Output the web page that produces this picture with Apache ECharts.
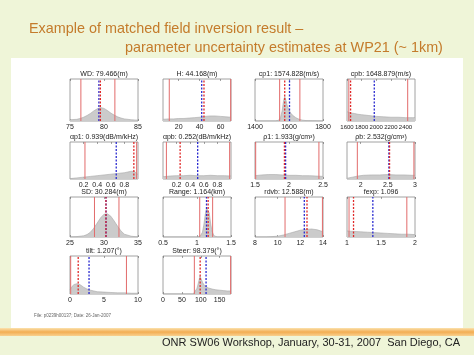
<!DOCTYPE html>
<html><head><meta charset="utf-8">
<script src="https://cdn.jsdelivr.net/npm/echarts@6/dist/echarts.min.js"></script>
<style>html,body{margin:0;padding:0;background:#eff5d8;}#c{width:474px;height:355px;}</style>
</head><body><div id="c"></div>
<script>
// ---- data ----
// each lines array: [lower bound, upper bound, estimate (red dashed), mean (blue dashed)]
const wdX = [75,76,76.5,77,77.5,78,78.5,79,79.5,80,80.5,81,81.5,82,82.5,83,84,85];
const wdY = [0.03,0.04,0.06,0.09,0.13,0.18,0.24,0.29,0.32,0.30,0.25,0.19,0.14,0.10,0.07,0.05,0.03,0.02];
const wdTicks = [75,80,85];
const wdLines = [76.6,81.6,79.466,79.25];

const hX = [5,10,15,20,25,30,35,40,45,50,55,60,65,70];
const hY = [0.04,0.05,0.05,0.06,0.06,0.07,0.08,0.09,0.11,0.12,0.12,0.11,0.10,0.09];
const hTicks = [20,40,60];
const hLines = [11,69.7,44.168,42];

const cp1X = [1400,1520,1540,1550,1560,1565,1570,1575,1580,1585,1590,1600,1610,1620,1640,1660,1680,1700,1800];
const cp1Y = [0,0,0.02,0.08,0.25,0.4,0.52,0.58,0.55,0.45,0.36,0.26,0.19,0.14,0.08,0.04,0.02,0.01,0];
const cp1Ticks = [1400,1600,1800];
const cp1Lines = [1545,1664,1574.828,1603];

const cpbX = [1600,1625,1650,1700,1750,1800,1900,2000,2100,2200,2300,2400,2500,2530];
const cpbY = [0.22,0.2,0.19,0.18,0.16,0.15,0.13,0.11,0.1,0.09,0.09,0.08,0.08,0.08];
const cpbTicks = [1600,1800,2000,2200,2400];
const cpbLines = [1625,2430,1648.879,1973];

const ap1X = [0,0.1,0.2,0.3,0.4,0.5,0.6,0.7,0.8,0.85,0.9,0.95,1];
const ap1Y = [0.01,0.03,0.05,0.07,0.09,0.11,0.13,0.15,0.17,0.19,0.21,0.2,0.12];
const ap1Ticks = [0.2,0.4,0.6,0.8];
const ap1Lines = [0.22,0.98,0.939,0.68];

const apbX = [0,0.1,0.2,0.3,0.4,0.5,0.6,0.7,0.8,0.9,1];
const apbY = [0.06,0.08,0.09,0.09,0.1,0.09,0.09,0.1,0.09,0.09,0.08];
const apbTicks = [0.2,0.4,0.6,0.8];
const apbLines = [0.05,0.98,0.252,0.51];

const r1X = [1.5,1.6,1.7,1.8,1.9,2,2.1,2.2,2.3,2.4,2.5];
const r1Y = [0.09,0.11,0.12,0.12,0.11,0.1,0.1,0.09,0.09,0.08,0.07];
const r1Ticks = [1.5,2,2.5];
const r1Lines = [1.51,2.44,1.933,1.95];

const rbX = [1.75,1.85,1.95,2.05,2.2,2.35,2.5,2.65,2.8,2.95,3];
const rbY = [0.02,0.05,0.08,0.1,0.11,0.11,0.12,0.11,0.11,0.1,0.1];
const rbTicks = [2,2.5,3];
const rbLines = [1.94,2.98,2.532,2.52];

const sdX = [25,26,27,27.5,28,28.5,29,29.5,30,30.5,31,31.5,32,32.5,33,34,35];
const sdY = [0,0.01,0.03,0.06,0.12,0.22,0.35,0.48,0.57,0.58,0.52,0.4,0.27,0.15,0.07,0.02,0];
const sdTicks = [25,30,35];
const sdLines = [28.6,32.2,30.284,30.3];

const rgX = [0.5,1,1.05,1.08,1.1,1.12,1.14,1.16,1.18,1.2,1.22,1.25,1.3,1.5];
const rgY = [0,0,0.03,0.12,0.3,0.55,0.72,0.75,0.6,0.35,0.15,0.03,0,0];
const rgTicks = [0.5,1,1.5];
const rgLines = [1.04,1.23,1.164,1.14];

const rdX = [8,9,10,10.5,11,11.5,12,12.5,13,13.5,14];
const rdY = [0,0,0.02,0.05,0.09,0.13,0.17,0.19,0.2,0.18,0.13];
const rdTicks = [8,10,12,14];
const rdLines = [10.65,13.95,12.588,12.35];

const fxX = [1,1.1,1.2,1.3,1.4,1.5,1.6,1.7,1.8,1.9,2];
const fxY = [0.15,0.14,0.13,0.12,0.11,0.1,0.09,0.08,0.07,0.07,0.06];
const fxTicks = [1,1.5,2];
const fxLines = [1.03,1.88,1.096,1.38];

const tiX = [0,0.3,0.6,1,1.3,1.6,2,2.5,3,3.5,4,5,6,7,8,9,10];
const tiY = [0.12,0.2,0.25,0.27,0.26,0.23,0.18,0.13,0.1,0.08,0.06,0.05,0.04,0.03,0.03,0.02,0.02];
const tiTicks = [0,5,10];
const tiLines = [0.1,8.3,1.207,2.8];

const stX = [0,80,85,90,95,98,100,105,110,115,120,130,140,150,160,170,180];
const stY = [0,0,0.02,0.15,0.35,0.47,0.44,0.3,0.22,0.18,0.16,0.13,0.11,0.1,0.09,0.08,0.08];
const stTicks = [0,50,100,150];
const stLines = [83,179,98.379,114];

const panelTitles = ['WD: 79.466(m)','H: 44.168(m)','cp1: 1574.828(m/s)','cpb: 1648.879(m/s)',
  'αp1: 0.939(dB/m/kHz)','αpb: 0.252(dB/m/kHz)','ρ1: 1.933(g/cm³)','ρb: 2.532(g/cm³)',
  'SD: 30.284(m)','Range: 1.164(km)','rdvb: 12.588(m)','fexp: 1.096',
  'tilt: 1.207(°)','Steer: 98.379(°)'];
const panelRanges = [[75,85],[5,70],[1400,1800],[1600,2530],[0,1],[0,1],[1.5,2.5],[1.75,3],
  [25,35],[0.5,1.5],[8,14],[1,2],[0,10],[0,180]];

const panels = [
  [wdX,wdY,wdTicks,wdLines],[hX,hY,hTicks,hLines],[cp1X,cp1Y,cp1Ticks,cp1Lines],[cpbX,cpbY,cpbTicks,cpbLines],
  [ap1X,ap1Y,ap1Ticks,ap1Lines],[apbX,apbY,apbTicks,apbLines],[r1X,r1Y,r1Ticks,r1Lines],[rbX,rbY,rbTicks,rbLines],
  [sdX,sdY,sdTicks,sdLines],[rgX,rgY,rgTicks,rgLines],[rdX,rdY,rdTicks,rdLines],[fxX,fxY,fxTicks,fxLines],
  [tiX,tiY,tiTicks,tiLines],[stX,stY,stTicks,stLines]
];

// ---- layout ----
const colLeft = [70,163,255,347];
const colW = 68;
const rowTop = [79,142,197,256];
const rowH = [42,37,40,38];
const FONT = '"Liberation Sans", Arial, sans-serif';

const grids = [], xAxes = [], yAxes = [], series = [], graphics = [];

graphics.push({type:'rect', shape:{x:11,y:58,width:452,height:270}, style:{fill:'#ffffff'}, z:-10});
graphics.push({type:'rect', shape:{x:0,y:328,width:474,height:8},
  style:{fill:new echarts.graphic.LinearGradient(0,0,0,1,[{offset:0,color:'#fbe2ae'},{offset:0.5,color:'#f3ad52'},{offset:1,color:'#f8d08e'}])}, z:-10});
graphics.push({type:'text', x:29, y:29, style:{text:'Example of matched field inversion result –', fill:'#c47b2b', font:'14.4px '+FONT, textVerticalAlign:'middle'}});
graphics.push({type:'text', x:125, y:48, style:{text:'parameter uncertainty estimates at WP21 (~ 1km)', fill:'#c47b2b', font:'14.4px '+FONT, textVerticalAlign:'middle'}});
graphics.push({type:'text', x:34, y:316, style:{text:'File: p0239h00137; Date: 26-Jan-2007', fill:'#666', font:'4.5px '+FONT, textVerticalAlign:'middle'}});
graphics.push({type:'text', x:460, y:343, style:{text:'ONR SW06 Workshop, January, 30-31, 2007  San Diego, CA', fill:'#222', font:'11px '+FONT, textAlign:'right', textVerticalAlign:'middle'}});

const lineStyles = [
  {color:'#e26b6b', type:'solid', width:1},
  {color:'#e26b6b', type:'solid', width:1},
  {color:'#e02828', type:[2,1.5], width:1.3},
  {color:'#2a2ad0', type:[2,1.5], width:1.3}
];
const lineOrder = [0,1,3,2];

panels.forEach((p, i) => {
  const [xs, ys, ticks, lines] = p;
  const r = Math.floor(i/4), c = i%4;
  const left = colLeft[c], top = rowTop[r], h = rowH[r];
  grids.push({left:left, top:top, width:colW, height:h, show:true, backgroundColor:'#fff', borderColor:'#8a8a8a', borderWidth:0.8, containLabel:false});
  const [mn, mx] = panelRanges[i];
  const fs = ticks.length > 4 ? 6 : 7;
  xAxes.push({type:'value', gridIndex:i, min:mn, max:mx, position:'bottom',
    axisLine:{show:false}, splitLine:{show:false},
    axisTick:{show:true, inside:true, length:2, customValues:ticks, lineStyle:{color:'#666', width:0.6}},
    axisLabel:{show:true, customValues:ticks, fontSize:fs, margin:3, color:'#222', fontFamily:FONT,
      hideOverlap:false, showMinLabel:true, showMaxLabel:true, formatter:(v)=>String(v)}});
  xAxes.push({type:'value', gridIndex:i, min:mn, max:mx, position:'top',
    axisLine:{show:false}, splitLine:{show:false},
    axisTick:{show:true, inside:true, length:2, customValues:ticks, lineStyle:{color:'#666', width:0.6}},
    axisLabel:{show:false}});
  yAxes.push({type:'value', gridIndex:i, min:0, max:1, show:false});
  series.push({type:'line', xAxisIndex:2*i, yAxisIndex:i, data: xs.map((x,k)=>[x, ys[k]]),
    symbol:'none', smooth:false, lineStyle:{color:'#a8a8a8', width:0.6},
    areaStyle:{color:'#cbcbcb', opacity:1}, animation:false, silent:true, z:2});
  lineOrder.forEach((k) => {
    series.push({type:'line', xAxisIndex:2*i, yAxisIndex:i, data:[[lines[k],0],[lines[k],1]],
      symbol:'none', lineStyle:lineStyles[k], itemStyle:{color:lineStyles[k].color},
      animation:false, silent:true, z:3});
  });
  graphics.push({type:'text', x:left+colW/2, y:top-1, style:{text:panelTitles[i], fill:'#222', font:'7px '+FONT, textAlign:'center', textVerticalAlign:'bottom'}});
});

const chart = echarts.init(document.getElementById('c'), null, {renderer:'canvas'});
chart.setOption({
  backgroundColor:'#eff5d8',
  animation:false,
  grid:grids, xAxis:xAxes, yAxis:yAxes, series:series, graphic:graphics
});
</script></body></html>
